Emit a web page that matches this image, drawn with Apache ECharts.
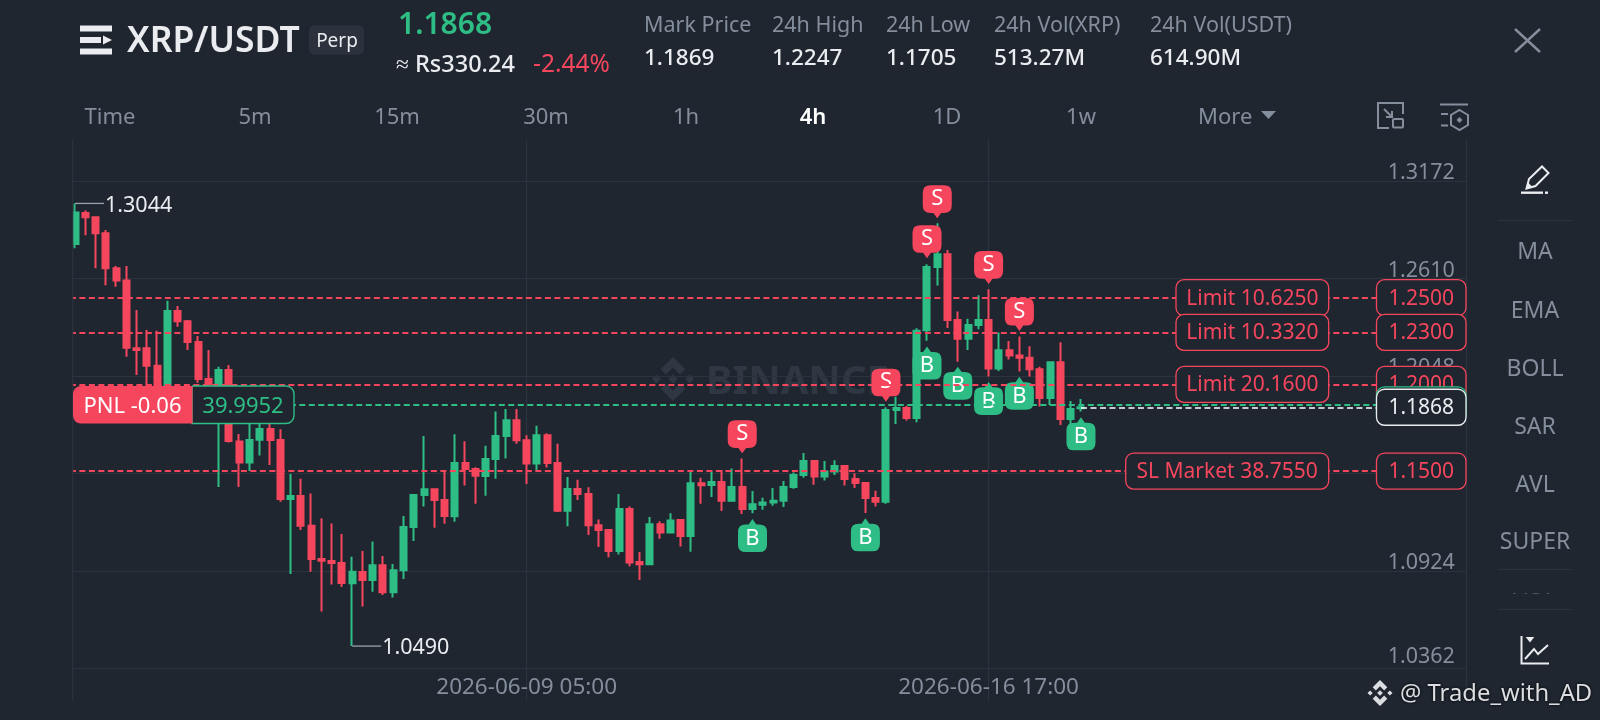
<!DOCTYPE html>
<html><head><meta charset="utf-8">
<style>html,body{margin:0;padding:0;background:#1f2630;}#c{width:1600px;height:720px;}</style>
<script src="https://cdn.jsdelivr.net/npm/echarts@6/dist/echarts.min.js"></script>
</head><body><div id="c"></div>
<script>
const opens=[1.2810,1.2989,1.2964,1.2872,1.2670,1.2599,1.2208,1.2208,1.2108,1.1929,
1.2424,1.2364,1.2245,1.2031,1.1820,1.2083,1.1670,1.1550,1.1681,1.1743,
1.1679,1.1339,1.1356,1.1185,1.0993,1.0981,1.0970,1.0852,1.0918,1.0871,
1.0956,1.0800,1.0927,1.1177,1.1362,1.1395,1.1333,1.1239,1.1547,1.1512,
1.1471,1.1570,1.1702,1.1793,1.1677,1.1543,1.1706,1.1547,1.1271,1.1396,
1.1368,1.1187,1.1160,1.1039,1.1281,1.0975,1.0962,1.1193,1.1146,1.1218,
1.1125,1.1429,1.1420,1.1437,1.1329,1.1408,1.1281,1.1306,1.1318,1.1329,
1.1408,1.1477,1.1558,1.1468,1.1497,1.1529,1.1454,1.1431,1.1344,1.1323,
1.1852,1.1864,1.1806,1.2312,1.2677,1.2751,1.2372,1.2264,1.2343,1.2372,
1.2091,1.2197,1.2166,1.2154,1.2087,1.1922,1.2127,1.1800,1.1862];
const closes=[1.2991,1.2964,1.2872,1.2670,1.2599,1.2212,1.2199,1.2108,1.1949,1.2424,
1.2364,1.2245,1.2031,1.2002,1.2083,1.1674,1.1550,1.1679,1.1743,1.1679,
1.1339,1.1356,1.1185,1.0993,1.0983,1.0970,1.0854,1.0919,1.0871,1.0956,
1.0800,1.0927,1.1177,1.1362,1.1395,1.1333,1.1241,1.1547,1.1512,1.1473,
1.1570,1.1702,1.1793,1.1677,1.1543,1.1706,1.1547,1.1271,1.1396,1.1368,
1.1187,1.1160,1.1039,1.1281,1.0973,1.0962,1.1193,1.1146,1.1214,1.1125,
1.1429,1.1418,1.1437,1.1329,1.1408,1.1281,1.1308,1.1318,1.1329,1.1408,
1.1477,1.1558,1.1468,1.1497,1.1529,1.1454,1.1431,1.1344,1.1323,1.1852,
1.1864,1.1806,1.2310,1.2677,1.2751,1.2372,1.2264,1.2343,1.2372,1.2091,
1.2197,1.2166,1.2154,1.2087,1.1922,1.2127,1.1800,1.1858,1.1868];
const lows=[1.2785,1.2860,1.2670,1.2572,1.2564,1.2160,1.2054,1.1949,1.1910,1.1900,
1.2333,1.2199,1.2010,1.1950,1.1408,1.1665,1.1408,1.1500,1.1589,1.1535,
1.1323,1.0906,1.1160,1.0919,1.0689,1.0846,1.0831,1.0490,1.0718,1.0804,
1.0785,1.0771,1.0877,1.1096,1.1295,1.1173,1.1196,1.1208,1.1416,1.1312,
1.1358,1.1456,1.1572,1.1658,1.1425,1.1502,1.1520,1.1264,1.1181,1.1333,
1.1131,1.1062,1.1002,1.1018,1.0950,1.0871,1.0960,1.1110,1.1139,1.1064,
1.1035,1.1312,1.1350,1.1270,1.1329,1.1252,1.1256,1.1277,1.1300,1.1293,
1.1398,1.1462,1.1421,1.1445,1.1477,1.1416,1.1402,1.1258,1.1295,1.1312,
1.1772,1.1791,1.1781,1.2252,1.2570,1.2325,1.2131,1.2199,1.2318,1.2045,
1.2077,1.2143,1.2074,1.2045,1.1872,1.1881,1.1766,1.1766,1.1843];
const highs=[1.3044,1.3003,1.2964,1.2891,1.2683,1.2683,1.2429,1.2314,1.2310,1.2483,
1.2452,1.2372,1.2279,1.2199,1.2102,1.2112,1.1714,1.1800,1.1775,1.1775,
1.1741,1.1483,1.1456,1.1371,1.1227,1.1198,1.1137,1.1006,1.1039,1.1094,
1.1010,1.0964,1.1241,1.1362,1.1702,1.1400,1.1502,1.1712,1.1672,1.1522,
1.1646,1.1843,1.1858,1.1858,1.1706,1.1762,1.1718,1.1658,1.1466,1.1450,
1.1406,1.1220,1.1160,1.1368,1.1295,1.1033,1.1235,1.1210,1.1256,1.1218,
1.1497,1.1462,1.1497,1.1506,1.1514,1.1572,1.1385,1.1346,1.1402,1.1443,
1.1491,1.1604,1.1564,1.1558,1.1562,1.1535,1.1487,1.1435,1.1387,1.1868,
1.1929,1.1875,1.2324,1.2693,1.2929,1.2776,1.2420,1.2379,1.2514,1.2549,
1.2299,1.2250,1.2276,1.2220,1.2102,1.2127,1.2243,1.1904,1.1916];

const slotCount=136;
const categories=[];
for(let i=0;i<slotCount;i++){categories.push(String(i));}
const dateTicks={44:'2026-06-09 05:00',89:'2026-06-16 17:00'};
const priceTicks=[1.3172,1.2610,1.2048,1.1486,1.0924,1.0362];
const axisMin=1.0179, axisMax=1.3410;

const sellIndex=[65,79,84,83,89,92];
const sellPrice=[1.1602,1.1900,1.2958,1.2728,1.2579,1.2308];
const buyIndex=[66,77,83,86,89,92,98];
const buyPrice=[1.1223,1.1227,1.2218,1.2102,1.2014,1.2044,1.1810];

const orderPrices=[1.2500,1.2300,1.2000,1.1500];
const orderLabels=['Limit 10.6250','Limit 10.3320','Limit 20.1600','SL Market 38.7550'];
const entryPrice=1.1882, lastPrice=1.1868;
const extremeIndex=[0,27];
const extremePrice=[1.3044,1.0490];

const menuItems=['MA','EMA','BOLL','SAR','AVL','SUPER','VOL'];
const tabs=['Time','5m','15m','30m','1h','4h','1D','1w'];
const statNames=['Mark Price','24h High','24h Low','24h Vol(XRP)','24h Vol(USDT)'];
const statValues=['1.1869','1.2247','1.1705','513.27M','614.90M'];

const BG='#1f2630',RED='#f6465d',GREEN='#2ebd85',GREY='#848e9c',WHITE='#eaecef',GRID='#2c333f',FONT='"Noto Sans"';
const buyPath='path://M30 16L41 0L52 16H60Q82 16 82 38V76Q82 98 60 98H22Q0 98 0 76V38Q0 16 22 16Z';
const sellPath='path://M22 0H60Q82 0 82 22V60Q82 82 60 82H52L41 98L30 82H22Q0 82 0 60V22Q0 0 22 0Z';

function T(text,x,y,fill,size,o){o=o||{};return {type:'text',silent:true,z:o.z==null?50:o.z,style:{text:text,x:x,y:y+1.5,fill:fill,
  font:(o.weight||'400')+' '+size+'px '+FONT,align:o.align||'left',textAlign:o.align||'left',verticalAlign:'middle',textVerticalAlign:'middle',textShadowColor:o.shadow,textShadowBlur:o.shadow?3:0}};}
function R(x,y,w,h,fill,o){o=o||{};return {type:'rect',silent:true,z:o.z==null?50:o.z,shape:{x:x,y:y,width:w,height:h,r:o.r||0},style:{fill:fill,stroke:o.stroke,lineWidth:o.lw||0}};}
function L(x1,y1,x2,y2,c,lw,z){return {type:'line',silent:true,z:z==null?50:z,shape:{x1:x1,y1:y1,x2:x2,y2:y2},style:{stroke:c,lineWidth:lw}};}
function P(pts,fill,o){o=o||{};return {type:o.open?'polyline':'polygon',silent:true,z:o.z==null?50:o.z,shape:{points:pts},style:o.open?{stroke:o.stroke,lineWidth:o.lw,fill:null}:{fill:fill,stroke:o.stroke,lineWidth:o.lw||0}};}
function logo(cx,cy,r,c,z){const m=(a)=>a.map(p=>[cx+p[0]*r,cy+p[1]*r]);const d=(x,y,s)=>[[x,y-s],[x+s,y],[x,y+s],[x-s,y]];
  return [P(m([[0,-1],[.56,-.44],[.32,-.2],[0,-.52],[-.32,-.2],[-.56,-.44]]),c,{z:z}),P(m([[0,1],[.56,.44],[.32,.2],[0,.52],[-.32,.2],[-.56,.44]]),c,{z:z}),
  P(m(d(0,0,.22)),c,{z:z}),P(m(d(.76,0,.2)),c,{z:z}),P(m(d(-.76,0,.2)),c,{z:z})];}

const g=[];
// watermark below the candles
g.push(...logo(673,379,22,'#2f3743',-1));
g.push(T('BINANCE',706,381,'#2f3743',40,{weight:'700',z:-1}));
// header
g.push(R(80,25.5,32,6,WHITE),R(80,37,21,6,WHITE),P([[103,35.5],[112,40],[103,44.5]],WHITE),R(80,48.5,32,6,WHITE));
g.push(T('XRP/USDT',127,40,WHITE,35.5,{weight:'600'}));
g.push(R(309,25.5,55,29,'#2b323d',{r:5}),T('Perp',337,40,WHITE,19,{align:'center'}));
g.push(T('1.1868',398,24,GREEN,30,{weight:'600'}));
g.push(T('≈ Rs330.24',396,64,WHITE,23.5,{weight:'500'}));
g.push(T('-2.44%',533,64,RED,24.5));
const statX=[644,772,886,994,1150];
statNames.forEach((s,i)=>{g.push(T(s,statX[i],24,GREY,21.5),T(statValues[i],statX[i],57,WHITE,22.5,{weight:'500'}));});
g.push(L(1515,29,1540,52,GREY,2.4),L(1540,29,1515,52,GREY,2.4));
// time tabs
const tabX=[110,255,397,546,686,813,947,1081];
tabs.forEach((s,i)=>g.push(T(s,tabX[i],116,s==='4h'?'#ffffff':GREY,22,{align:'center',weight:s==='4h'?'600':'400'})));
g.push(T('More',1198,116,GREY,22),P([[1261,111],[1276,111],[1268.5,119]],GREY));
// toolbar icons
g.push(P([[1389,128],[1378,128],[1378,103],[1403,103],[1403,114]],null,{open:true,stroke:GREY,lw:2}),R(1393,119,10,8.5,'transparent',{stroke:GREY,lw:2,r:1}),
 L(1384,109,1392,117,GREY,2),P([[1392,111],[1392,117],[1386,117]],null,{open:true,stroke:GREY,lw:2}));
g.push(L(1440,104.5,1468,104.5,GREY,2),L(1441,114,1448,114,GREY,2),L(1441,125.5,1448,125.5,GREY,2),
 P([[1459.5,110],[1468,115],[1468,125],[1459.5,130],[1451,125],[1451,115]],'transparent',{stroke:GREY,lw:2}),P([[1459.5,117],[1462.5,120],[1459.5,123],[1456.5,120]],GREY));
// side menu
g.push(P([[1526.5,188.5],[1529,179],[1542,166.5],[1548.5,173],[1535.5,186]],'transparent',{stroke:WHITE,lw:2}),P([[1526.5,188.5],[1528,182.5],[1532.5,187]],WHITE),R(1521,191.5,22,2.4,WHITE),R(1545,191.5,3,2.4,WHITE));
const menuY=[251,310,367.5,425.5,484,541,602];
menuItems.forEach((s,i)=>g.push(T(s,1535,menuY[i],GREY,23,{align:'center'})));
g.push(R(1490,593.5,100,32,BG,{z:51}));
g.push(L(1498,220.5,1572,220.5,GRID,1.2,52),L(1498,569.5,1572,569.5,GRID,1.2,52),L(1498,609.5,1572,609.5,GRID,1.2,52));
g.push(P([[1521.5,636],[1521.5,663.5],[1549,663.5]],null,{open:true,stroke:WHITE,lw:2}),P([[1525,659],[1534,649],[1538,654],[1548,645]],null,{open:true,stroke:WHITE,lw:2}),P([[1525.7,637],[1534.3,637],[1530,642.5]],WHITE));
// footer credit
g.push(...logo(1380,693,13,'#dcdde0',60));
g.push(T('@ Trade_with_AD',1400,693,'#dcdde0',23.8,{z:60,shadow:'#000'}));
// left frame
g.push(R(60,140,12.7,560,BG,{z:40}),L(72.7,140,72.7,700,GRID,1.2,41));
// PNL tag
g.push(R(192,386,102,37.5,BG,{z:45,r:[0,8,8,0],stroke:GREEN,lw:1.4}),R(73,386,119.5,37.5,RED,{z:46,r:[8,0,0,8]}));
g.push(T('PNL -0.06',132.5,405,'#ffffff',22,{align:'center',z:47}),T('39.9952',243,405,GREEN,22,{align:'center',z:47}));

const candleData=opens.map((o,i)=>[o,closes[i],lows[i],highs[i]]);
const hLine=(p)=>({yAxis:p,lineStyle:{color:RED,type:[6,3.5],width:2}});
const segLine=(p,a,b,c,w)=>[{coord:[categories[a],p],lineStyle:{color:c,type:[6,3.5],width:w}},{coord:[categories[b],p]}];

function boxItem(params,api){
  const i=params.dataIndex;
  const y=api.coord([0,api.value(1)])[1];
  const h=36;
  const right=1466,priceW=89.5,midRight=1328.7;
  const text=orderLabels[i];
  const w=text.length>14?203:152.7;
  const mk=(x,wd,txt)=>[{type:'rect',shape:{x:x,y:y-h/2,width:wd,height:h,r:8},style:{fill:BG,stroke:RED,lineWidth:1.3}},
    {type:'text',style:{x:x+wd/2,y:y+1,text:txt,fill:RED,font:'400 21px '+FONT,align:'center',verticalAlign:'middle'}}];
  return {type:'group',children:[...mk(midRight-w,w,text),...mk(right-priceW,priceW,api.value(1).toFixed(4))]};
}
function lastItem(params,api){
  const y=api.coord([0,api.value(1)])[1];
  const x=1376.5,w=89.5,h=36;
  const isLast=params.dataIndex===1;
  const kids=[{type:'rect',shape:{x:x,y:y-h/2,width:w,height:h,r:8},style:{fill:BG,stroke:isLast?WHITE:GREEN,lineWidth:1.3}}];
  if(isLast)kids.push({type:'text',style:{x:x+w/2,y:y+1,text:api.value(1).toFixed(4),fill:WHITE,font:'400 21px '+FONT,align:'center',verticalAlign:'middle'}});
  return {type:'group',children:kids};
}
function extremeItem(params,api){
  const pt=api.coord([api.value(0),api.value(1)]);
  const x0=Math.max(pt[0],72.7);
  return {type:'group',children:[
    {type:'line',shape:{x1:x0,y1:pt[1],x2:x0+29,y2:pt[1]},style:{stroke:'#9aa1ac',lineWidth:1.3}},
    {type:'text',style:{x:x0+30,y:pt[1]+2,text:api.value(1).toFixed(4),fill:WHITE,font:'400 21.5px '+FONT,align:'left',verticalAlign:'middle'}}
  ]};
}

const option={
  animation:false,backgroundColor:BG,
  textStyle:{fontFamily:FONT},
  graphic:{elements:g},
  grid:{left:69.87,width:1396.04,top:140,height:560,containLabel:false},
  xAxis:{type:'category',data:categories,boundaryGap:true,
    axisLine:{show:false},
    axisTick:{show:false,alignWithLabel:true,interval:(i)=>i in dateTicks},
    splitLine:{show:true,alignWithLabel:true,interval:(i)=>i in dateTicks,lineStyle:{color:GRID,width:1.2}},
    axisLabel:{inside:true,margin:1,interval:(i)=>i in dateTicks,formatter:(v)=>dateTicks[v]||'',color:GREY,fontSize:22.5,fontFamily:FONT,hideOverlap:false}},
  yAxis:{type:'value',position:'right',scale:true,min:axisMin,max:axisMax,
    axisLine:{show:true,lineStyle:{color:GRID,width:1.2}},
    axisTick:{show:false,customValues:priceTicks},
    splitLine:{show:true,lineStyle:{color:GRID,width:1.2}},
    axisLabel:{inside:true,margin:11,customValues:priceTicks,
      formatter:(v)=>Math.abs(v-priceTicks[priceTicks.length-1])<1e-6?'{low|'+v.toFixed(4)+'}':'{n|'+v.toFixed(4)+'}',
      rich:{n:{color:GREY,fontSize:21.5,fontFamily:FONT,lineHeight:21,padding:[0,0,16,0]},low:{color:GREY,fontSize:21.5,fontFamily:FONT,lineHeight:21,padding:[0,0,22,0]}},
      color:GREY,fontSize:21.5,fontFamily:FONT,verticalAlign:'middle'}},
  series:[
    {type:'candlestick',z:2,data:candleData,barWidth:6.5,clip:true,
     itemStyle:{color:GREEN,color0:RED,borderColor:GREEN,borderColor0:RED,borderWidth:2},
     markLine:{silent:true,symbol:'none',animation:false,z:5,label:{show:false},
       data:[...orderPrices.map(hLine),segLine(entryPrice,20,128,GREEN,2),segLine(lastPrice,98,128,'#ffffff',1.5)]}},
    {type:'scatter',z:3,clip:false,data:sellIndex.map((x,i)=>[x,sellPrice[i]]),symbol:sellPath,symbolSize:[29,33],symbolOffset:[0,-16.5],
     itemStyle:{color:RED,opacity:1},label:{show:true,position:'inside',offset:[0,-3],formatter:'S',color:'#fff',fontSize:22,fontFamily:FONT}},
    {type:'scatter',z:3,clip:false,data:buyIndex.map((x,i)=>[x,buyPrice[i]]),symbol:buyPath,symbolSize:[29,33],symbolOffset:[0,16.5],
     itemStyle:{color:GREEN,opacity:1},label:{show:true,position:'inside',offset:[0,3],formatter:'B',color:'#fff',fontSize:22,fontFamily:FONT}},
    {type:'custom',z:6,clip:false,data:orderPrices.map((p,i)=>[i,p]),renderItem:boxItem},
    {type:'custom',z:7,clip:false,data:[[0,entryPrice],[1,lastPrice]],renderItem:lastItem},
    {type:'custom',z:8,clip:false,data:extremeIndex.map((x,i)=>[x,extremePrice[i]]),renderItem:extremeItem}
  ]
};
const chart=echarts.init(document.getElementById('c'),null,{renderer:'canvas'});
chart.setOption(option);
</script></body></html>
